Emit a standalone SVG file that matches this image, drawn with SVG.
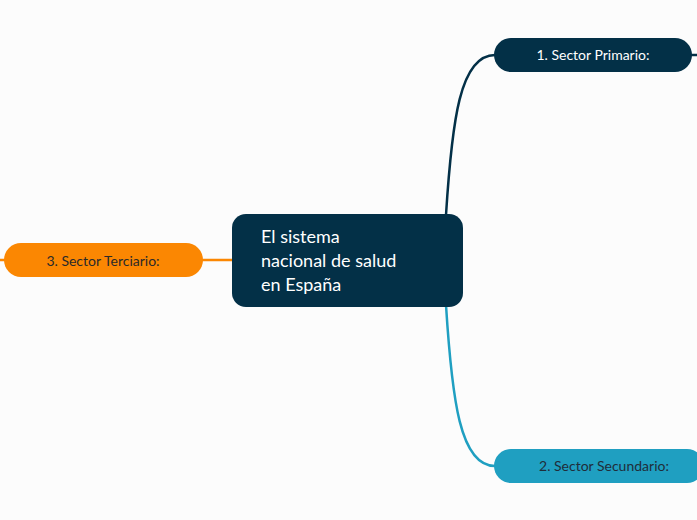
<svg xmlns="http://www.w3.org/2000/svg" width="697" height="520" viewBox="0 0 697 520">
<style>
text{font-family:"Lato","Noto Sans",sans-serif;}
.b{font-size:14px;text-anchor:middle;}
.c{fill:none;stroke-width:2.5;}
</style>
<rect width="697" height="520" fill="#fcfcfc"/>
<g id="connectors">
<path class="c" stroke="#033047" d="M446 215 C452 120 460 55 495 55"/>
<path class="c" stroke="#033047" d="M690 55 L697 55"/>
<path class="c" stroke="#1f9fc1" d="M446 305 C452 400 460 466 495 466"/>
<path class="c" stroke="#fb8702" d="M202 260 L233 260"/>
<path class="c" stroke="#fb8702" d="M0 260 L5 260"/>
</g>
<g id="center">
<rect x="232" y="214" width="231" height="93" rx="14" fill="#033047"/>
<text x="261" y="243" font-size="18" fill="#fff">El sistema</text>
<text x="261" y="267" font-size="18" fill="#fff">nacional de salud</text>
<text x="261" y="291" font-size="18" fill="#fff">en España</text>
</g>
<g id="n1">
<rect x="494" y="38" width="198" height="34" rx="17" fill="#033047"/>
<text class="b" x="593" y="60" fill="#fff">1. Sector Primario:</text>
</g>
<g id="n2">
<rect x="494" y="449" width="210" height="34" rx="17" fill="#1f9fc1"/>
<text class="b" x="604" y="471" fill="#1f2d3a">2. Sector Secundario:</text>
</g>
<g id="n3">
<rect x="4" y="243" width="199" height="34" rx="17" fill="#fb8702"/>
<text class="b" x="103" y="266" fill="#2a2a2a">3. Sector Terciario:</text>
</g>
</svg>
